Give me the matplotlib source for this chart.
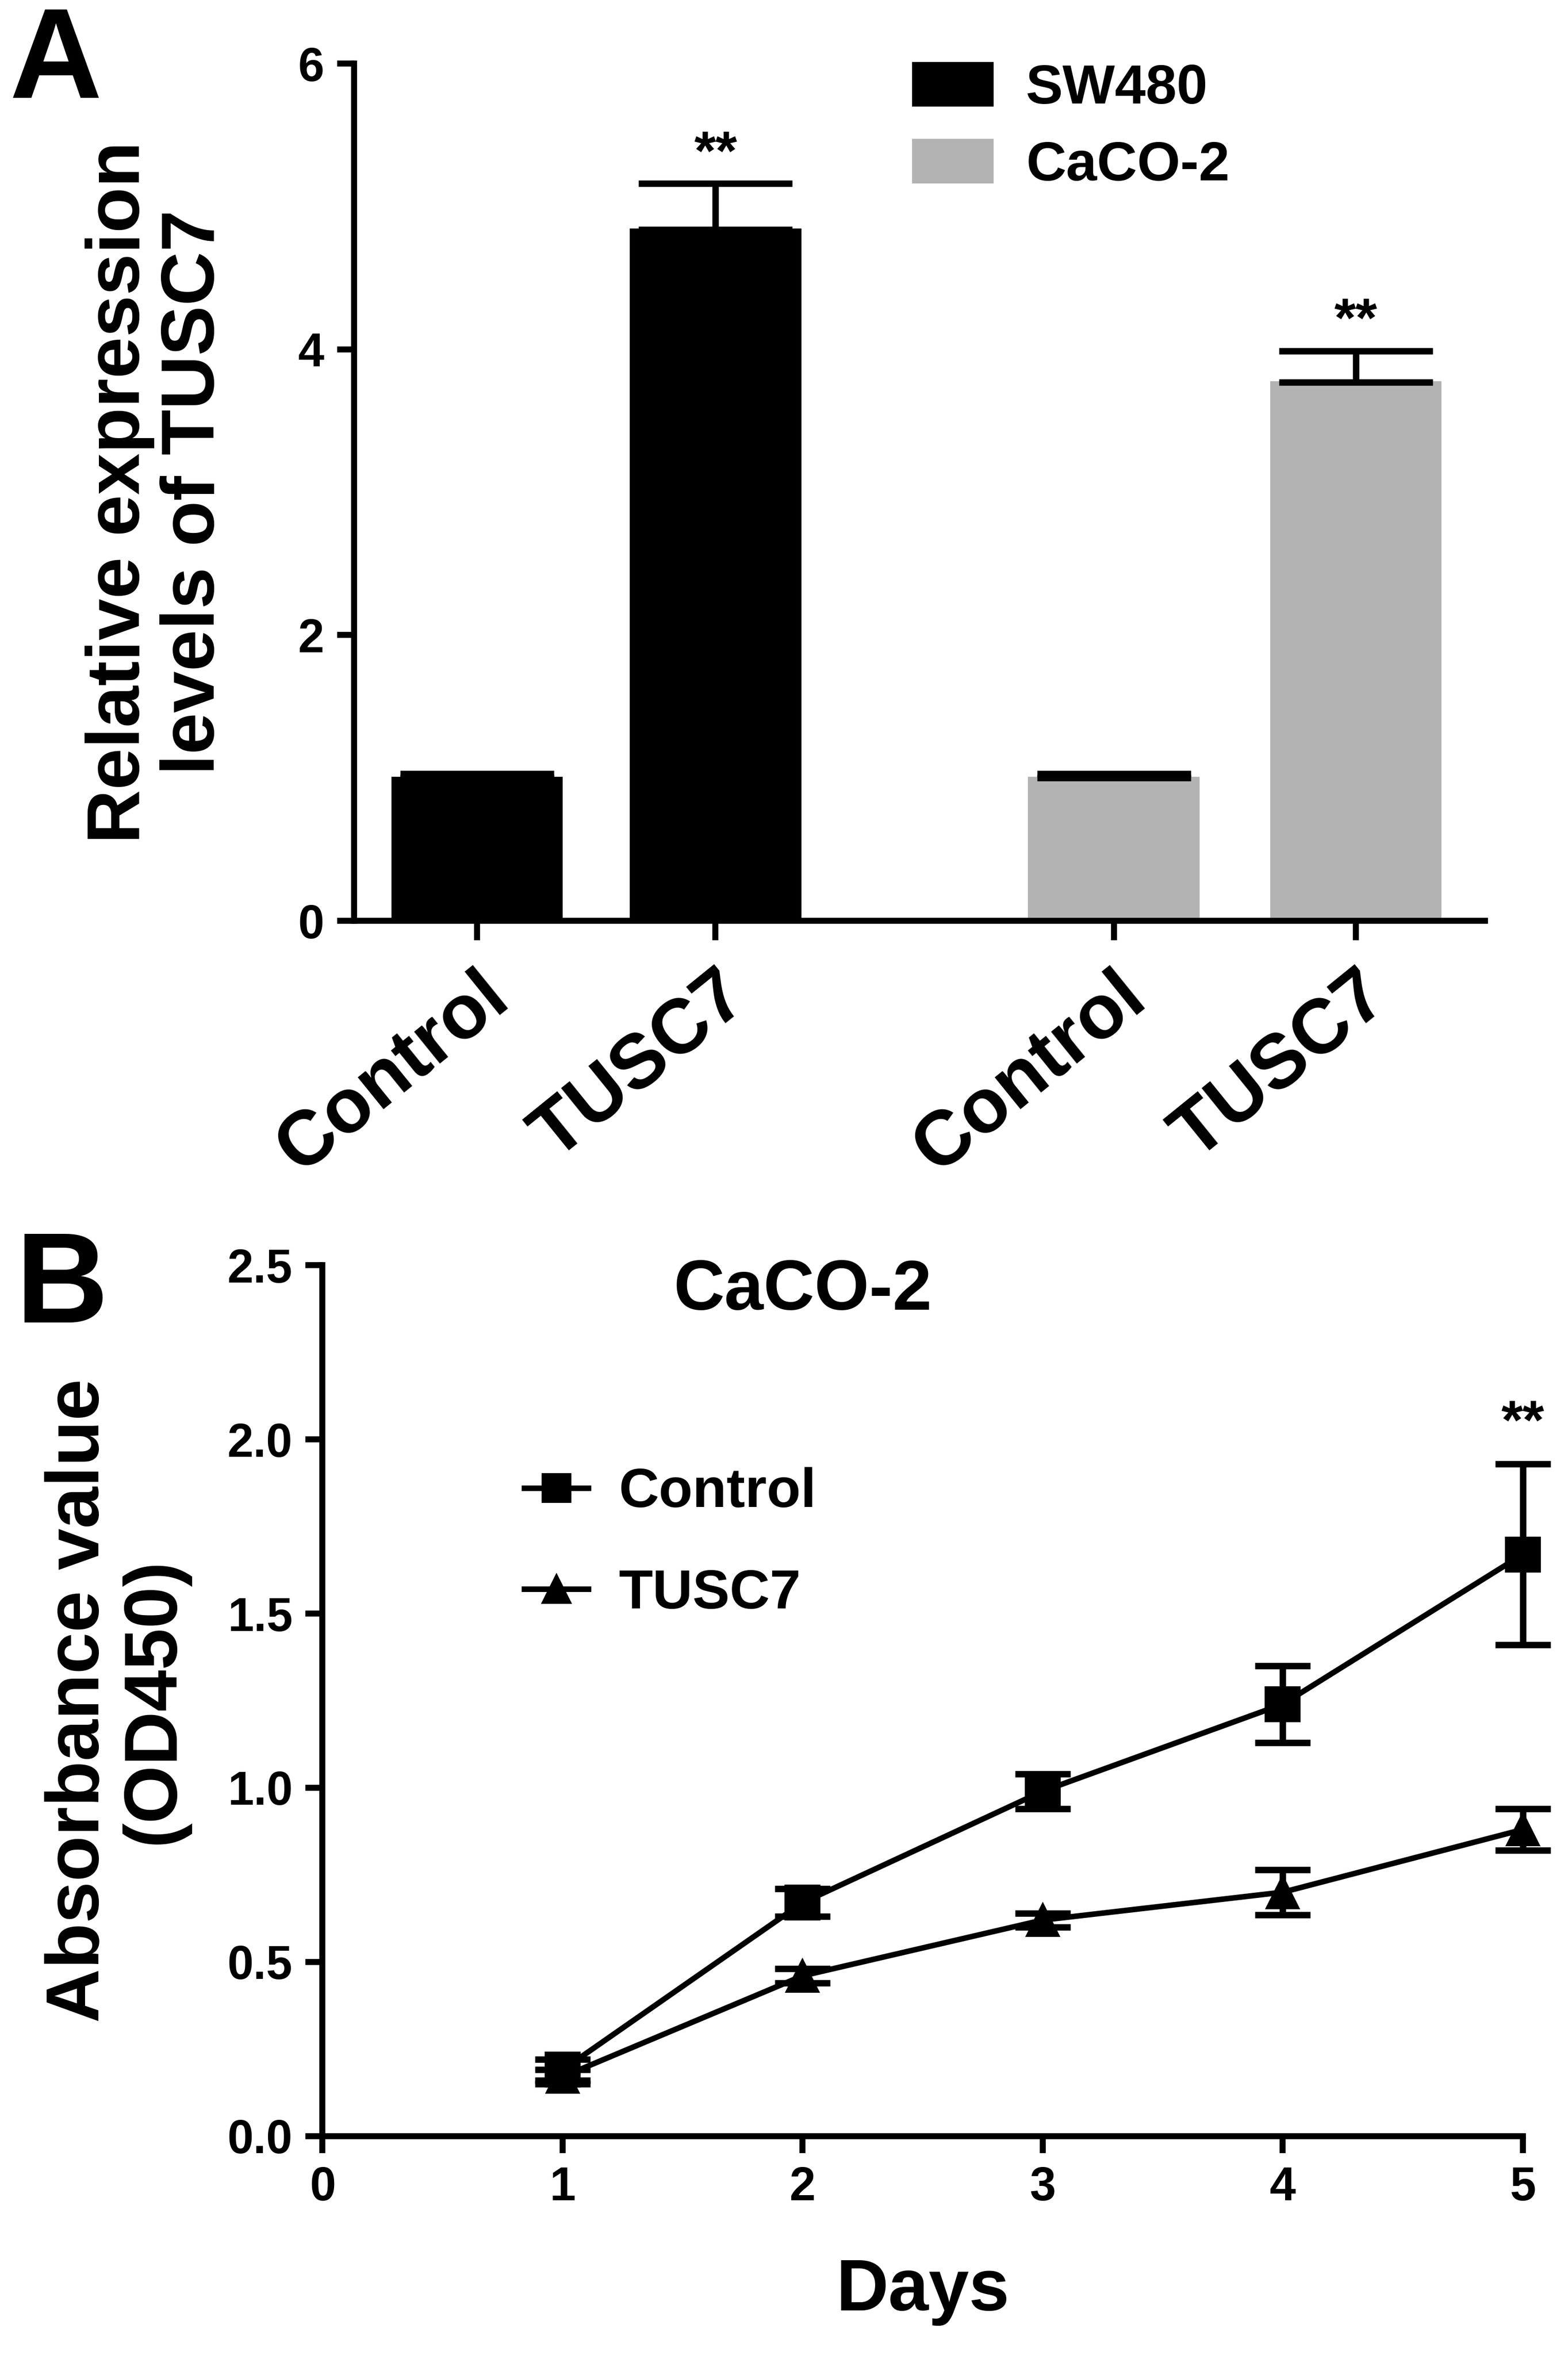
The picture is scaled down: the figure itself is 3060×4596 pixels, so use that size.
import matplotlib
matplotlib.use('Agg')
import matplotlib.pyplot as plt
import numpy as np
from matplotlib.patches import Patch
from matplotlib.lines import Line2D

plt.rcParams['font.family'] = ['Liberation Sans', 'DejaVu Sans']
plt.rcParams['font.weight'] = 'bold'
plt.rcParams['axes.labelweight'] = 'bold'

# panel A data
bar_labels = ['Control', 'TUSC7', 'Control', 'TUSC7']
bar_pos = [0, 1, 2.67, 3.685]
sw480_vals = [1.0, 4.84]
sw480_err = [0.03, 0.32]
caco2_vals = [1.0, 3.77]
caco2_err = [0.03, 0.22]

# panel B data
days = [1, 2, 3, 4, 5]
control_od = [0.19, 0.67, 0.99, 1.24, 1.67]
control_sd = [0.03, 0.04, 0.05, 0.11, 0.26]
tusc7_od = [0.17, 0.46, 0.62, 0.70, 0.88]
tusc7_sd = [0.02, 0.02, 0.02, 0.065, 0.06]

black = '#000000'
grey = '#b3b3b3'
lw_axis = 2.8

fig = plt.figure(figsize=(10.2, 15.32), dpi=300)

# ---------------- Panel A ----------------
axA = fig.add_axes([0.2258, 0.609, 0.7212, 0.364])
axA.bar(bar_pos[:2], sw480_vals, width=0.71, color=black, edgecolor=black, linewidth=1)
axA.bar(bar_pos[2:], caco2_vals, width=0.71, color=grey, edgecolor=grey, linewidth=1)
axA.errorbar(bar_pos[:2], sw480_vals, yerr=[[0, 0], sw480_err], fmt='none',
             ecolor=black, elinewidth=3, capsize=36, capthick=3)
axA.errorbar(bar_pos[2:], caco2_vals, yerr=[[0, 0], caco2_err], fmt='none',
             ecolor=black, elinewidth=3, capsize=36, capthick=3)

axA.text(bar_pos[1], sw480_vals[1] + sw480_err[1] + 0.02, '**', ha='center', va='bottom', fontsize=26)
axA.text(bar_pos[3], caco2_vals[1] + caco2_err[1] + 0.02, '**', ha='center', va='bottom', fontsize=26)

axA.set_xlim(-0.516, 4.226)
axA.set_ylim(0, 6)
axA.set_yticks([0, 2, 4, 6])
axA.set_xticks(bar_pos)
axA.set_xticklabels(bar_labels, rotation=39, ha='right', va='top', rotation_mode='anchor', fontsize=36)
axA.tick_params(axis='y', labelsize=22, width=lw_axis, length=8, pad=6)
axA.tick_params(axis='x', width=lw_axis, length=9, pad=9)
for s in ['top', 'right']:
    axA.spines[s].set_visible(False)
for s in ['left', 'bottom']:
    axA.spines[s].set_linewidth(lw_axis)
axA.set_ylabel('Relative expression\nlevels of TUSC7', fontsize=35, linespacing=1.1, labelpad=32)

handlesA = [Patch(facecolor=black, edgecolor=black), Patch(facecolor=grey, edgecolor=grey)]
axA.legend(handlesA, ['SW480', 'CaCO-2'], loc='upper left', bbox_to_anchor=(0.47, 1.033),
           frameon=False, fontsize=26, handlelength=1.43, handleheight=0.8,
           handletextpad=0.6, labelspacing=0.45, borderpad=0)

fig.text(0.006, 0.998, 'A', fontsize=60, va='top', ha='left')

# ---------------- Panel B ----------------
axB = fig.add_axes([0.2057, 0.093, 0.7655, 0.3697])
axB.errorbar(days, control_od, yerr=control_sd, color=black, linewidth=2.6, marker='s',
             markersize=16, elinewidth=3, capsize=13, capthick=3, clip_on=False,
             label='Control')
axB.errorbar(days, tusc7_od, yerr=tusc7_sd, color=black, linewidth=2.6, marker='^',
             markersize=15, elinewidth=3, capsize=13, capthick=3, clip_on=False,
             label='TUSC7')

axB.set_xlim(0, 5)
axB.set_ylim(0, 2.5)
axB.set_xticks([0, 1, 2, 3, 4, 5])
axB.set_yticks([0.0, 0.5, 1.0, 1.5, 2.0, 2.5])
axB.set_yticklabels(['%.1f' % v for v in [0.0, 0.5, 1.0, 1.5, 2.0, 2.5]])
axB.tick_params(axis='both', labelsize=22, width=lw_axis, length=8, pad=6)
for s in ['top', 'right']:
    axB.spines[s].set_visible(False)
for s in ['left', 'bottom']:
    axB.spines[s].set_linewidth(lw_axis)
axB.set_ylabel('Absorbance value\n(OD450)', fontsize=35, linespacing=1.1, labelpad=18)
axB.set_xlabel('Days', fontsize=34, labelpad=22)
axB.text(0.40, 0.97, 'CaCO-2', transform=axB.transAxes, ha='center', va='center', fontsize=33)
axB.text(days[4], control_od[4] + control_sd[4] + 0.04, '**', ha='center', va='bottom', fontsize=26)

handlesB = [Line2D([], [], color=black, linewidth=2.6, marker='s', markersize=13),
            Line2D([], [], color=black, linewidth=2.6, marker='^', markersize=13)]
axB.legend(handlesB, ['Control', 'TUSC7'], loc='upper left', bbox_to_anchor=(0.145, 0.80),
           frameon=False, fontsize=26, handlelength=1.15, handletextpad=0.55,
           labelspacing=0.9, borderpad=0)

fig.text(0.01, 0.478, 'B', fontsize=60, va='top', ha='left')

fig.savefig('out.png', dpi=300)
